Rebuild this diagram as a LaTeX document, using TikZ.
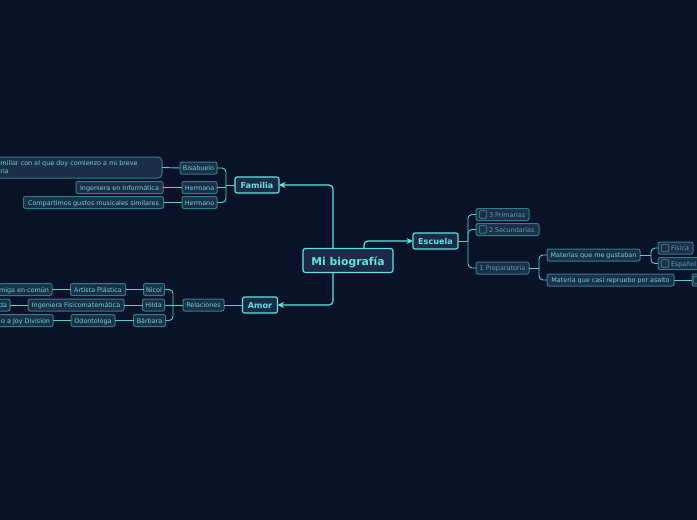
\documentclass[tikz,border=0pt]{standalone}
\usepackage{fontspec}
\setmainfont{DejaVu Sans}
\usetikzlibrary{arrows.meta}
\definecolor{bg}{HTML}{0A1228}
\definecolor{cy}{HTML}{5FE6DC}
\definecolor{cyw}{HTML}{4FD4CC}
\definecolor{cyd}{HTML}{3F8F92}
\definecolor{fillA}{HTML}{1C2A47}
\definecolor{fillB}{HTML}{1D2E48}
\definecolor{edgeB}{HTML}{2F7F85}
\definecolor{txt}{HTML}{66DAD2}
\definecolor{txtdim}{HTML}{4FA8AA}
\tikzset{
 every node/.style={inner sep=0pt,outer sep=0pt,align=left},
 rootbox/.style={draw=cy,fill=fillA,line width=1.2pt,rounded corners=2.5pt,text=cy,font=\bfseries\fontsize{10.8}{12}\selectfont,minimum height=24pt,text height=11pt,text depth=1.4pt},
 mainbox/.style={draw=cy,fill=fillA,line width=1.1pt,rounded corners=2pt,text=cy,font=\bfseries\fontsize{8.1}{10}\selectfont,minimum height=16pt,text height=7.4pt,text depth=.8pt},
 basebox/.style={draw=edgeB,fill=fillB,line width=1pt,rounded corners=2pt,text=txt,font=\fontsize{6.4}{8}\selectfont,minimum height=12pt},
 subbox/.style={basebox,text height=5.4pt,text depth=.4pt},
 offbox/.style={subbox,anchor=east,inner xsep=3pt},
 taskbox/.style={subbox,text=txtdim},
 wire/.style={draw=cy,line width=1.2pt,rounded corners=4pt},
 twire/.style={draw=cyw,line width=.9pt,rounded corners=4pt},
 chk/.style={draw=cyd,line width=.6pt,rounded corners=1pt,minimum size=7.5pt,fill=fillB},
 tip/.style={-{Stealth[length=6.5pt,width=6pt]}}
}
\begin{document}
\begin{tikzpicture}[x=1pt,y=-1pt]
\useasboundingbox (0,0) rectangle (697,520);
\fill[bg] (0,0) rectangle (697,520);
\clip (0,0) rectangle (697,520);
\node[rootbox,minimum width=90pt] (root) at (348,260.5) {Mi biografía};
\node[mainbox,minimum width=44pt] (fam) at (257,185) {Familia};
\node[mainbox,minimum width=35pt] (amor) at (260,305) {Amor};
\node[mainbox,minimum width=45pt] (esc) at (435.5,241) {Escuela};

\node[subbox,minimum width=37pt] (bis) at (198.5,168) {Bisabuelo};
\node[subbox,minimum width=35pt] (herma) at (199.5,187.5) {Hermana};
\node[subbox,minimum width=35pt] (hermo) at (199.5,202.5) {Hermano};
\node[basebox,minimum width=172pt,minimum height=21pt,text width=151pt,rounded corners=4pt] (bisd) at (76,167.5) {miliar con el que doy comienzo a mi breve\\ria};
\node[subbox,minimum width=87pt] (inf) at (119.5,187.5) {Ingeniera en Informática};
\node[subbox,minimum width=140pt] (gus) at (93.5,202.5) {Compartimos gustos musicales similares};

\node[subbox,minimum width=41pt] (rel) at (203.5,305) {Relaciones};
\node[subbox,minimum width=21pt] (nic) at (154,289.5) {Nicol};
\node[subbox,minimum width=22pt] (hil) at (153.5,305) {Hilda};
\node[subbox,minimum width=32pt] (bar) at (149.5,320.5) {Bárbara};
\node[subbox,minimum width=55pt] (art) at (98,289.5) {Artista Plástica};
\node[subbox,minimum width=96pt] (fis) at (76,305) {Ingeniera Fisicomatemática};
\node[subbox,minimum width=44pt] (odo) at (93,320.5) {Odontologa};
\node[offbox] (ami) at (52,289.5) {miga en común};
\node[offbox] (ila) at (10,305) {da};
\node[offbox] (joy) at (53,320.5) {o a Joy Division};

\node[taskbox,minimum width=53pt,text width=46pt] (pri) at (502.5,214.5) {\hspace*{9.5pt}3 Primarias};
\node[taskbox,minimum width=63pt,text width=56pt] (sec) at (507.5,229.5) {\hspace*{9.5pt}2 Secundarias};
\node[taskbox,minimum width=53pt] (pre) at (502.5,268) {1 Preparatoria};
\node[subbox,minimum width=93pt] (gust) at (593.5,255) {Materias que me gustaban};
\node[subbox,minimum width=127pt] (rep) at (610.5,280) {Materia que casi repruebo por asalto};
\node[taskbox,minimum width=35pt,text width=28pt] (fisi) at (675.5,248) {\hspace*{9.5pt}Física};
\node[taskbox,minimum width=42pt,text width=35pt] (esp) at (679,263.5) {\hspace*{9.5pt}Español};
\node[taskbox,minimum width=20pt,anchor=west] (extra) at (692,280) {};
\node[chk] (c1) at (483,214.5) {};
\node[chk] (c2) at (483,229.5) {};
\node[chk] (c3) at (665,248) {};
\node[chk] (c4) at (665,263.5) {};
\node[chk] (c5) at (697,280) {};

% connectors
\draw[wire,tip] ([xshift=16pt]root.north) |- (esc.west);
\draw[wire,tip] ([xshift=-15pt]root.north) |- (fam.east);
\draw[wire,tip] ([xshift=-15pt]root.south) |- (amor.east);

\coordinate (fj) at (226,185);
\draw[twire] (fam.west) -- (fj);
\draw[twire] (bis.east) -| (fj);
\draw[twire] (hermo.east) -| (fj);
\draw[twire] (herma.east) -- (herma.east -| fj);
\draw[twire] (bis.west) -- (bisd.east);
\draw[twire] (herma.west) -- (inf.east);
\draw[twire] (hermo.west) -- (gus.east);

\draw[twire] (amor.west) -- (rel.east);
\coordinate (rj) at (173,305);
\draw[twire] (rel.west) -- (rj);
\draw[twire] (nic.east) -| (rj);
\draw[twire] (bar.east) -| (rj);
\draw[twire] (hil.east) -- (rj);
\draw[twire] (nic.west) -- (art.east);
\draw[twire] (hil.west) -- (fis.east);
\draw[twire] (bar.west) -- (odo.east);
\draw[twire] (art.west) -- (ami.east);
\draw[twire] (fis.west) -- (ila.east);
\draw[twire] (odo.west) -- (joy.east);

\coordinate (ej) at (468,241);
\draw[twire] (esc.east) -- (ej);
\draw[twire] (pri.west) -| (ej);
\draw[twire] (sec.west) -| (ej);
\draw[twire] (pre.west) -| (ej);
\coordinate (pj) at (539,268);
\draw[twire] (pre.east) -- (pj);
\draw[twire] (gust.west) -| (pj);
\draw[twire] (rep.west) -| (pj);
\coordinate (gj) at (651,255);
\draw[twire] (gust.east) -- (gj);
\draw[twire] (fisi.west) -| (gj);
\draw[twire] (esp.west) -| (gj);
\draw[twire] (rep.east) -- (extra.west);
\end{tikzpicture}
\end{document}
